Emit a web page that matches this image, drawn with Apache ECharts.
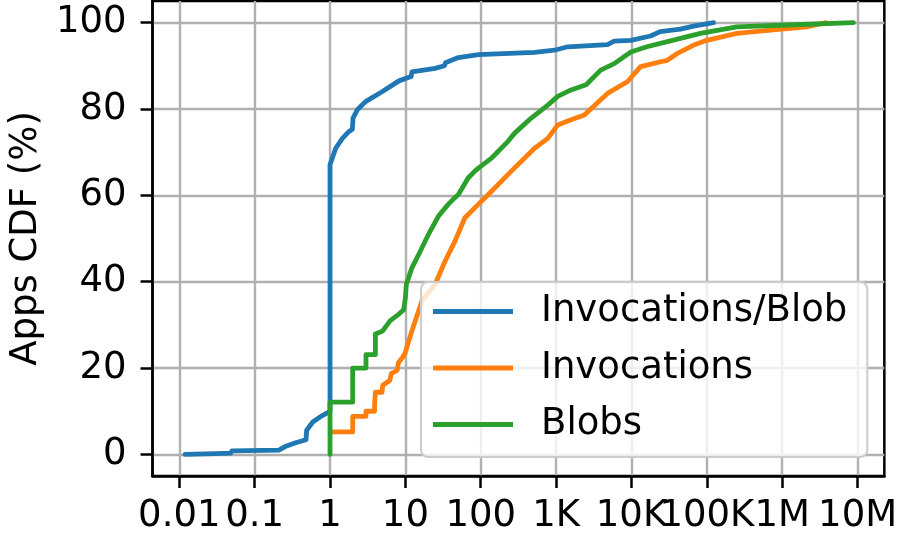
<!DOCTYPE html>
<html><head><meta charset="utf-8">
<script src="https://cdn.jsdelivr.net/npm/echarts@6/dist/echarts.min.js"></script>
<style>html,body{margin:0;padding:0;background:#fff}#c{width:900px;height:540px}</style>
</head><body><div id="c"></div>
<script>
// tick positions (decades) and labels
const tickExponents = [-2, -1, 0, 1, 2, 3, 4, 5, 6, 7];
const tickLabels = ['0.01', '0.1', '1', '10', '100', '1K', '10K', '100K', '1M', '10M'];
const yTicks = [0, 20, 40, 60, 80, 100];
const seriesNames = ['Invocations/Blob', 'Invocations', 'Blobs'];
const seriesColors = ['#1f77b4', '#ff7f0e', '#2ca02c'];

// Invocations/Blob
const invPerBlobX = [0.0119, 0.03, 0.048, 0.05, 0.21, 0.26, 0.35, 0.48, 0.49, 0.59, 0.79, 0.92, 1.0, 1.0,
  1.19, 1.46, 1.79, 1.98, 2.02, 2.3, 2.96, 4.9, 8.2, 11.9, 12.2, 24.8, 33, 34, 50.5, 93, 517, 949,
  1425, 4800, 5900, 9800, 17900, 24000, 44600, 66800, 123000];
const invPerBlobY = [0, 0.2, 0.3, 0.8, 1.0, 1.9, 2.7, 3.4, 5.6, 7.5, 9.0, 9.6, 10.0, 67.1,
  70.9, 73.2, 74.8, 75.3, 77.9, 79.8, 81.7, 84.0, 86.5, 87.5, 88.6, 89.4, 90.0, 90.7, 91.9, 92.6, 93.1, 93.6,
  94.4, 94.9, 95.7, 95.9, 96.9, 97.9, 98.5, 99.2, 100];

// Invocations
const invX = [1, 2, 2, 3, 3, 3.9, 3.9, 4, 4, 4.9, 5, 6.2, 6.5, 7.8, 8.1, 9.2, 10, 10.8, 12.2, 16.6, 24.8,
  33.7, 45.5, 61.6, 92.7, 126, 255, 518, 776, 1050, 1578, 2366, 4800, 8800, 13200, 26800, 29500, 40000,
  67000, 100000, 250000, 507000, 2090000, 3800000];
const invY = [5.2, 5.2, 8.8, 8.8, 10.0, 10.0, 11.5, 11.5, 14.4, 14.4, 16.0, 17.1, 18.7, 19.5, 21.3, 22.5, 23.6, 25.6, 28.6, 35.6, 39.4,
  44.8, 49.4, 54.8, 57.9, 60.2, 65.6, 70.9, 73.2, 76.3, 77.5, 78.6, 83.6, 86.3, 89.8, 91.1, 91.2, 92.8,
  94.8, 95.9, 97.5, 98.0, 99.0, 100];

// Blobs
const blobX = [1, 1, 2, 2, 3, 3, 4, 4, 5, 6.3, 8.2, 9.5, 10, 10.3, 12.2, 15, 20.3, 27.5, 37, 45, 50.5, 68, 83.6,
  93, 139, 154, 230, 282, 468, 776, 1050, 1578, 2500, 3900, 5900, 9800, 16000, 30000, 82000, 250000,
  1400000, 8800000];
const blobY = [0, 12.1, 12.1, 20.0, 20.0, 23.1, 23.1, 27.9, 28.6, 31.0, 32.5, 33.5, 36.3, 39.4, 43.2, 46.3, 51.0, 55.2, 57.9, 59.4, 60.2, 64.0, 65.6,
  66.3, 68.6, 69.4, 72.5, 74.4, 77.9, 80.9, 82.9, 84.4, 85.6, 89.0, 90.5, 93.2, 94.4, 95.6, 97.5, 99.0,
  99.5, 100];

const toPts = (xs, ys) => xs.map((x, i) => [Math.log10(x), ys[i]]);
const allData = [toPts(invPerBlobX, invPerBlobY), toPts(invX, invY), toPts(blobX, blobY)];

const FONT = 'DejaVu Sans';
const chart = echarts.init(document.getElementById('c'), null, {renderer: 'canvas'});
chart.setOption({
  animation: false,
  backgroundColor: '#ffffff',
  grid: {left: 150, right: 15, top: 1, bottom: 64, show: true, borderColor: '#000', borderWidth: 2.5, containLabel: false},
  xAxis: {
    type: 'value', min: -2.355, max: 7.355,
    axisLine: {show: true, onZero: false, lineStyle: {color: '#000', width: 2.5}},
    axisTick: {show: true, inside: false, length: 12, lineStyle: {color: '#000', width: 2.5}, customValues: tickExponents},
    axisLabel: {show: true, margin: 22, fontSize: 37, fontFamily: FONT, color: '#000', customValues: tickExponents,
      formatter: v => tickLabels[tickExponents.indexOf(Math.round(v))]},
    splitLine: {show: true, lineStyle: {color: '#b0b0b0', width: 2.4}}
  },
  yAxis: {
    type: 'value', min: -5, max: 105,
    name: 'Apps CDF (%)', nameLocation: 'middle', nameRotate: 90, nameGap: 107,
    nameTextStyle: {fontSize: 37, fontFamily: FONT, color: '#000'},
    axisLine: {show: true, onZero: false, lineStyle: {color: '#000', width: 2.5}},
    axisTick: {show: true, inside: false, length: 12, lineStyle: {color: '#000', width: 2.5}, customValues: yTicks},
    axisLabel: {show: true, margin: 26, fontSize: 37, fontFamily: FONT, color: '#000', customValues: yTicks},
    splitLine: {show: true, lineStyle: {color: '#b0b0b0', width: 2.4}}
  },
  legend: {
    show: true, orient: 'vertical', left: 421, top: 282,
    data: seriesNames,
    icon: 'rect', itemWidth: 80, itemHeight: 5, itemGap: 19.5,
    padding: [11, 20, 14, 12],
    backgroundColor: 'rgba(255,255,255,0.8)', borderColor: '#cccccc', borderWidth: 2, borderRadius: 7,
    textStyle: {fontSize: 37, fontFamily: FONT, color: '#000', padding: [0, 0, 0, 23]}
  },
  series: seriesNames.map((name, i) => ({
    name, type: 'line', data: allData[i], showSymbol: false, symbol: 'none',
    lineStyle: {color: seriesColors[i], width: 4.8, join: 'round', cap: 'round'},
    itemStyle: {color: seriesColors[i]},
    clip: true
  }))
});
</script></body></html>
